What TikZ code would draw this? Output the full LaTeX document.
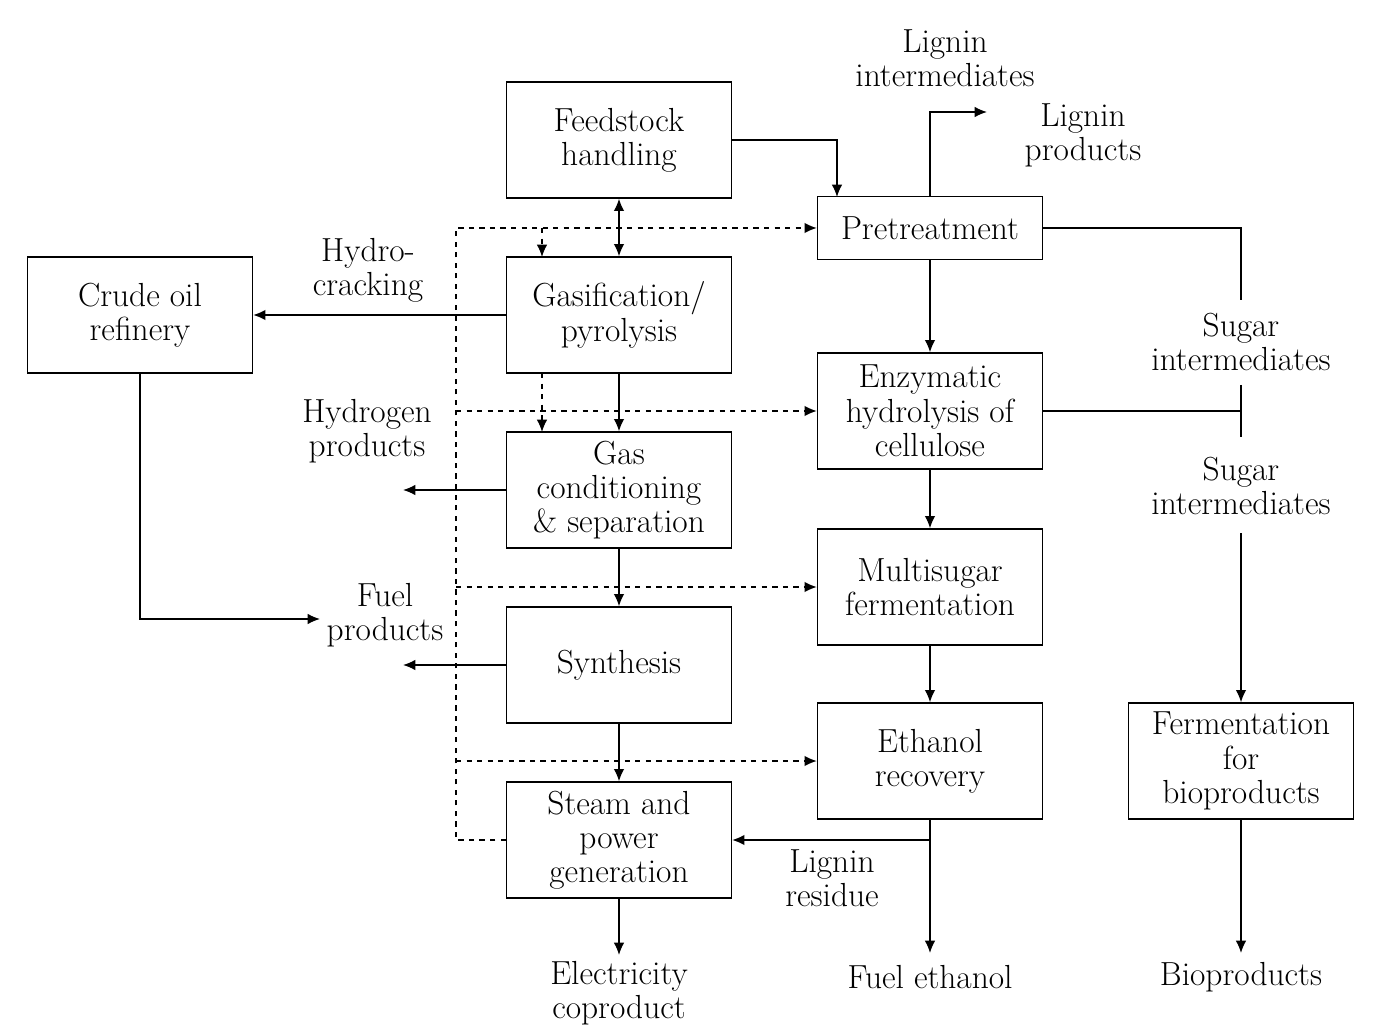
\documentclass[tikz,border=0pt]{standalone}
\usetikzlibrary{positioning,arrows.meta}
\tikzset{
  box/.style={draw,thick,minimum width=4.5cm,minimum height=2.32cm,align=center,inner sep=1pt},
  lbl/.style={align=center,inner sep=0pt},
  flow/.style={thick,-{Latex[length=7pt,width=6pt]}},
  dflow/.style={thick,dashed,-{Latex[length=7pt,width=6pt]}}
}
\begin{document}
\begin{tikzpicture}[x=0.02cm,y=-0.02cm,font=\fontsize{19}{19.5}\selectfont]
	\useasboundingbox (0,0) rectangle (1374,1027);
	% process boxes
	\node[box] (feed) at (619,140) {Feedstock\\handling};
	\node[box,minimum height=1.26cm] (pre) at (930,228) {Pretreatment};
	\node[box] (crude) at (140,315) {Crude oil\\refinery};
	\node[box] (gasif) at (619,315) {Gasification/\\pyrolysis};
	\node[box] (enz) at (930,411) {Enzymatic\\hydrolysis of\\cellulose};
	\node[box] (gascond) at (619,490) {Gas\\conditioning\\\& separation};
	\node[box] (multi) at (930,587) {Multisugar\\fermentation};
	\node[box] (synth) at (619,665) {Synthesis};
	\node[box] (ethrec) at (930,761) {Ethanol\\recovery};
	\node[box] (ferm) at (1241,761) {Fermentation\\for\\bioproducts};
	\node[box] (steam) at (619,840) {Steam and\\power\\generation};
	% labels
	\node[lbl] (ligint) at (945,58) {Lignin\\intermediates};
	\node[lbl] (ligprod) at (1083,135) {Lignin\\products};
	\node[lbl] (hydro) at (368,270) {Hydro-\\cracking};
	\node[lbl] (sugar1) at (1241,342) {Sugar\\intermediates};
	\node[lbl] (sugar2) at (1241,486) {Sugar\\intermediates};
	\node[lbl] (h2prod) at (367,431) {Hydrogen\\products};
	\node[lbl] (fuelprod) at (385,615) {Fuel\\products};
	\node[lbl] (ligres) at (832,878) {Lignin\\residue};
	\node[lbl] (elec) at (619,993) {Electricity\\coproduct};
	\node[lbl] (fueleth) at (930,977) {Fuel ethanol};
	\node[lbl] (bioprod) at (1241,977) {Bioproducts};
	% free ends
	\coordinate (ligend) at (987,112);
	\coordinate (h2end) at (403,490);
	\coordinate (fuelend) at (403,665);
	\coordinate (fuelin) at (320,619);
	\coordinate (dl) at (456,840);
	% solid flows
	\draw[flow] (feed.east) -| (837,197);
	\draw[thick,{Latex[length=7pt,width=6pt]}-{Latex[length=7pt,width=6pt]}] (feed) -- (gasif);
	\draw[flow] (pre.north) |- (ligend);
	\draw[thick] (pre.east) -| (1241,300);
	\draw[thick] (enz.east) -- (1241,411);
	\draw[thick] (1241,385) -- (1241,437);
	\draw[flow] (1241,533) -- (ferm.north);
	\draw[flow] (pre) -- (enz);
	\draw[flow] (enz) -- (multi);
	\draw[flow] (multi) -- (ethrec);
	\draw[flow] (ethrec.south) -- (930,953);
	\draw[flow] (930,840) -- (steam.east);
	\draw[flow] (ferm.south) -- (1241,953);
	\draw[flow] (gasif.west) -- (crude.east);
	\draw[flow] (gasif) -- (gascond);
	\draw[flow] (gascond) -- (synth);
	\draw[flow] (synth) -- (steam);
	\draw[flow] (steam.south) -- (619,955);
	\draw[flow] (gascond.west) -- (h2end);
	\draw[flow] (synth.west) -- (fuelend);
	\draw[flow] (crude.south) |- (fuelin);
	% dashed utilities
	\draw[dflow] (steam.west) -- (dl) -- (456,228) -- (pre.west);
	\draw[dflow] (542,228) -- (542,257);
	\draw[dflow] (542,373) -- (542,432);
	\draw[dflow] (456,411) -- (enz.west);
	\draw[dflow] (456,587) -- (multi.west);
	\draw[dflow] (456,761) -- (ethrec.west);
\end{tikzpicture}
\end{document}
